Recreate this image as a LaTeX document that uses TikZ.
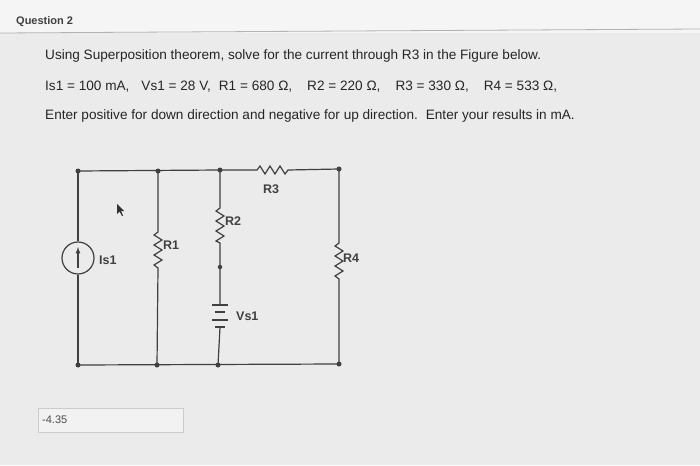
\documentclass[tikz,border=0pt]{standalone}
\usepackage{fontspec}
\setmainfont{Liberation Sans}
\begin{document}
\begin{tikzpicture}[x=1pt,y=-1pt,
  txt/.style={anchor=west,inner sep=0,font=\fontsize{13.6}{15}\selectfont,text=black!85},
  lbl/.style={anchor=west,inner sep=0,font=\bfseries\fontsize{12.5}{14}\selectfont,text=black!75},
  wire/.style={draw=black!75,line width=1.2pt},
  dot/.style={circle,fill=black!75,inner sep=0,minimum size=5pt}]
\useasboundingbox (0,0) rectangle (700,465);
\fill[black!8] (0,0) rectangle (700,465);
\fill[black!4] (0,0) rectangle (700,33);
\draw[black!30,line width=0.8pt] (0,33) -- (700,29);
\node[lbl,font=\bfseries\fontsize{11}{13}\selectfont] (q) at (16,22) {Question 2};
\node[txt] (t1) at (45,56) {Using Superposition theorem, solve for the current through R3 in the Figure below.};
\node[txt] (t2) at (45,87) {Is1 = 100 mA,\hspace{12pt}Vs1 = 28 V,\hspace{8pt}R1 = 680 Ω,\hspace{15pt}R2 = 220 Ω,\hspace{15pt}R3 = 330 Ω,\hspace{15pt}R4 = 533 Ω,};
\node[txt] (t3) at (45,116) {Enter positive for down direction and negative for up direction.\hspace{8pt}Enter your results in mA.};
% circuit
\coordinate (a) at (78,171); \coordinate (b) at (158,171); \coordinate (c) at (220,170);
\coordinate (d) at (339,169);
\coordinate (a2) at (78,365); \coordinate (b2) at (157,365); \coordinate (c2) at (218,365); \coordinate (d2) at (339,364);
\foreach \p in {a,b,c,d,a2,b2,c2,d2} \node[dot] at (\p) {};
\draw[wire] (a) -- (c) -- (257,170) -- ++(3,-4) -- ++(5,8) -- ++(5,-8) -- ++(5,8) -- ++(5,-8) -- ++(5,8) -- ++(3,-4) -- (d);
\node[lbl] (r3) at (263,189) {R3};
\draw[wire] (a2) -- (d2);
% Is1
\node[circle,draw=black!75,line width=1.2pt,minimum size=32pt,inner sep=0] (is) at (78,258) {};
\draw[wire] (a) -- (is.north); \draw[wire] (is.south) -- (a2);
\draw[wire,-latex] (78,268) -- (78,247);
\node[lbl] (lis) at (99,260) {Is1};
% R1
\draw[wire] (b) -- (158,232) -- ++(-4,3) \foreach \i in {1,2,3}{ -- ++(8,5) -- ++(-8,5)} -- (158,268) -- (b2);
\node[lbl] (lr1) at (163,245) {R1};
% R2
\draw[wire] (c) -- (220,208) -- ++(-4,3) \foreach \i in {1,2,3}{ -- ++(8,5) -- ++(-8,5)} -- (220,243) -- (220,305);
\node[dot,minimum size=4.5pt] (m) at (220,267) {};
\node[lbl] (lr2) at (225,221) {R2};
% battery
\draw[wire] (212,305) -- (228,305);
\draw[wire] (215,312) -- (225,312);
\draw[wire] (212,320) -- (228,320);
\draw[wire] (215,327) -- (225,327);
\draw[wire] (220,327) -- (c2);
\node[lbl] (lv) at (236,316) {Vs1};
% R4
\draw[wire] (d) -- (339,243) -- ++(-4,3) \foreach \i in {1,2,3}{ -- ++(8,5) -- ++(-8,5)} -- (339,279) -- (d2);
\node[lbl] (lr4) at (343,258) {R4};
% cursor
\fill[black!80] (117,204) -- (117,214) -- (119.5,211.5) -- (122,216) -- (123,215.5) -- (121,211) -- (124,211) -- cycle;
% answer box
\node[draw=black!20,fill=black!5,minimum width=145pt,minimum height=24pt,anchor=north west,inner sep=0] (box) at (38,408) {};
\node[txt,font=\fontsize{11}{13}\selectfont,text=black!70] (ans) at (42,420) {-4.35};
\end{tikzpicture}
\end{document}
